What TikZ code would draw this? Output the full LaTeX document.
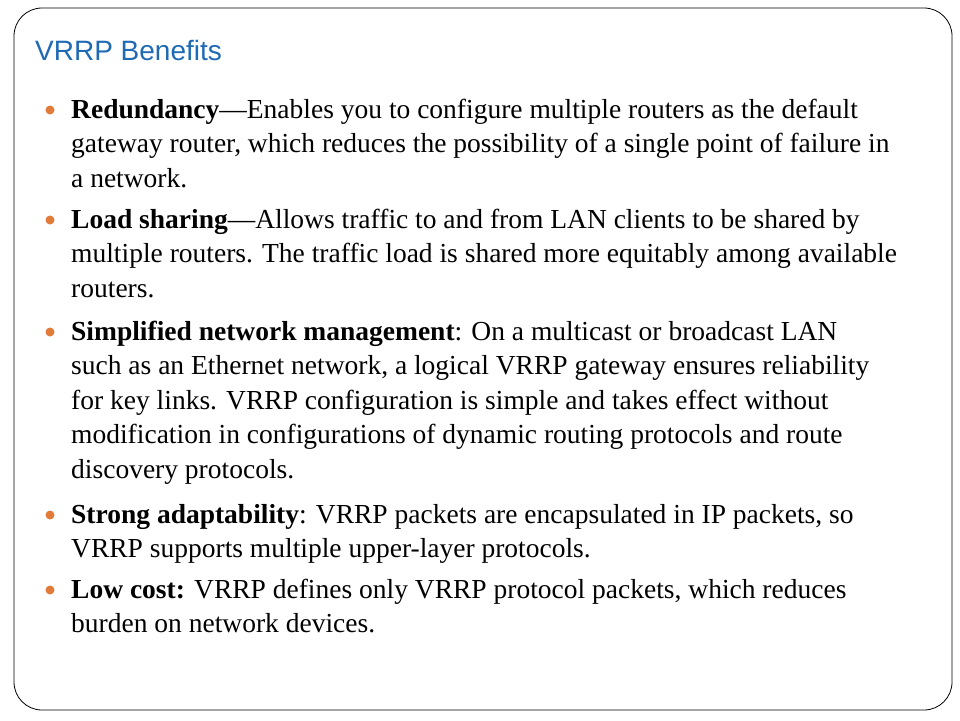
\documentclass[tikz,border=0pt]{standalone}
\usepackage{fontspec}
\setmainfont{Liberation Serif}
\newfontfamily\titlefont{Liberation Sans}
\begin{document}
\begin{tikzpicture}[x=1pt,y=-1pt,
  para/.style={anchor=north west,align=left,inner sep=0pt,font=\fontsize{27.5}{34.5}\selectfont},
  bul/.style={circle,fill=bulcol,inner sep=0pt,minimum size=9pt}]
\definecolor{bulcol}{HTML}{E07B39}
\definecolor{titcol}{HTML}{1E6AB4}
\useasboundingbox (0,0) rectangle (960,720);
\draw[line width=0.8pt,rounded corners=28pt] (14,8) rectangle (952,710);
\node[anchor=base west,inner sep=0pt,text=titcol,font=\titlefont\fontsize{28}{32}\selectfont] (title) at (35,60) {VRRP Benefits};
\node[para] (p1) at (71,118-24.15) {\strut\textbf{Redundancy}---Enables you to configure multiple routers as the default\\gateway router, which reduces the possibility of a single point of failure in\\a network.};
\node[para] (p2) at (71,228-24.15) {\strut\textbf{Load sharing}---Allows traffic to and from LAN clients to be shared by\\multiple routers. The traffic load is shared more equitably among available\\routers.};
\node[para] (p3) at (71,340-24.15) {\strut\textbf{Simplified network management}: On a multicast or broadcast LAN\\such as an Ethernet network, a logical VRRP gateway ensures reliability\\for key links. VRRP configuration is simple and takes effect without\\modification in configurations of dynamic routing protocols and route\\discovery protocols.};
\node[para] (p4) at (71,523-24.15) {\strut\textbf{Strong adaptability}: VRRP packets are encapsulated in IP packets, so\\VRRP supports multiple upper-layer protocols.};
\node[para] (p5) at (71,598-24.15) {\strut\textbf{Low cost:} VRRP defines only VRRP protocol packets, which reduces\\burden on network devices.};
\node[bul] (b1) at (50,110) {};
\node[bul] (b2) at (50,220) {};
\node[bul] (b3) at (50,332) {};
\node[bul] (b4) at (50,515) {};
\node[bul] (b5) at (50,590) {};
\end{tikzpicture}
\end{document}
